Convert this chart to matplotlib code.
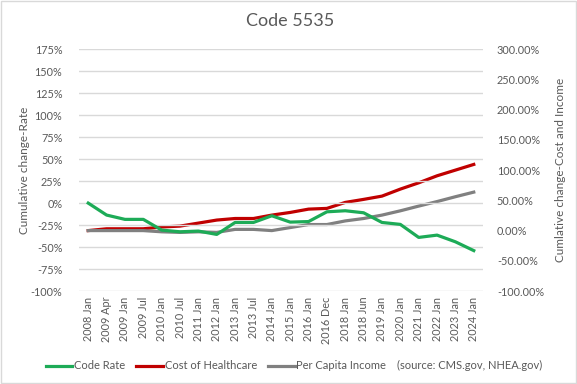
import matplotlib
matplotlib.use("Agg")
import matplotlib.pyplot as plt
from matplotlib.ticker import FuncFormatter, MultipleLocator
from matplotlib.patches import Rectangle

plt.rcParams['font.family'] = ['Lato', 'DejaVu Sans']

## DATA
categories = ["2008 Jan", "2009 Apr", "2009 Jan", "2009 Jul", "2010 Jan", "2010 Jul",
              "2011 Jan", "2012 Jan", "2013 Jan", "2013 Jul", "2014 Jan", "2015 Jan",
              "2016 Jan", "2016 Dec", "2018 Jan", "2018 Jun", "2019 Jan", "2020 Jan",
              "2021 Jan", "2022 Jan", "2023 Jan", "2024 Jan"]

# left axis, percent
code_rate = [0, -13.6, -18.5, -18.5, -30.7, -32.6, -31.8, -35.6, -22, -22, -14.4, -21.6,
             -21, -9.9, -8.7, -11, -22, -24.2, -39, -36.4, -44, -54]

# right axis, percent
cost_healthcare = [0, 3, 3, 3, 6, 7.4, 12.4, 17.4, 20, 20, 25.6, 30,
                   35.5, 36.7, 46.6, 51.6, 57, 68.6, 79, 90.6, 100, 109.4]
per_capita_income = [0, 0, 0, 0, -2, -3, -2, -3, 2, 2, 0, 5,
                     10, 10, 16, 20, 25.6, 32.7, 40.5, 48, 56, 63.6]

GREEN = "#1DAB57"
RED = "#C00000"
GRAY = "#808080"
TXT = "#595959"

## PLOTTING
fig = plt.figure(figsize=(5.77, 3.84), dpi=100)
ax = fig.add_axes([0.137, 0.242, 0.700, 0.630])
ax2 = ax.twinx()

x = list(range(len(categories)))
l1, = ax.plot(x, code_rate, color=GREEN, linewidth=2.3, label="Code Rate", zorder=3)
l2, = ax2.plot(x, cost_healthcare, color=RED, linewidth=2.3, label="Cost of Healthcare")
l3, = ax2.plot(x, per_capita_income, color=GRAY, linewidth=2.3, label="Per Capita Income")
ax.set_zorder(ax2.get_zorder() + 1)
ax.patch.set_visible(False)

ax.set_xlim(-0.5, len(categories) - 0.5)
ax.set_ylim(-100, 175)
ax.yaxis.set_major_locator(MultipleLocator(25))
ax.yaxis.set_major_formatter(FuncFormatter(lambda v, p: f"{v:.0f}%"))
ax2.set_ylim(-100, 300)
ax2.yaxis.set_major_locator(MultipleLocator(50))
ax2.yaxis.set_major_formatter(FuncFormatter(lambda v, p: f"{v:.2f}%"))

ax.grid(axis='y', color="#D9D9D9", linewidth=1)
ax.set_axisbelow(True)
ax.set_xticks(x)
ax.set_xticklabels(categories, rotation=90)

for a in (ax, ax2):
    for s in a.spines.values():
        s.set_visible(False)
    a.tick_params(length=0, labelsize=7.8, colors=TXT)
ax.tick_params(axis='y', pad=12)
ax2.tick_params(axis='y', pad=10)
ax.tick_params(axis='x', pad=4)

ax.set_ylabel("Cumulative change-Rate", color=TXT, fontsize=8.5)
ax.yaxis.set_label_coords(-0.121, 0.5)
ax2.set_ylabel("Cumlative change-Cost and Income", color=TXT, fontsize=8.5)
ax2.yaxis.set_label_coords(1.178, 0.5)

fig.text(0.503, 0.945, "Code 5535", ha="center", va="center", fontsize=13, color=TXT)

fig.legend(handles=[l1, l2, l3], loc="center left", bbox_to_anchor=(0.062, 0.047), ncol=3,
           frameon=False, fontsize=8, handlelength=2.4, handletextpad=0.15,
           columnspacing=1.0, labelcolor=TXT)
fig.text(0.688, 0.047, "(source: CMS.gov, NHEA.gov)", ha="left", va="center", fontsize=8, color=TXT)

fig.patches.append(Rectangle((0.002, 0.003), 0.996, 0.994, transform=fig.transFigure,
                             fill=False, edgecolor="#D9D9D9", linewidth=1))

fig.savefig("out.png", dpi=100)
